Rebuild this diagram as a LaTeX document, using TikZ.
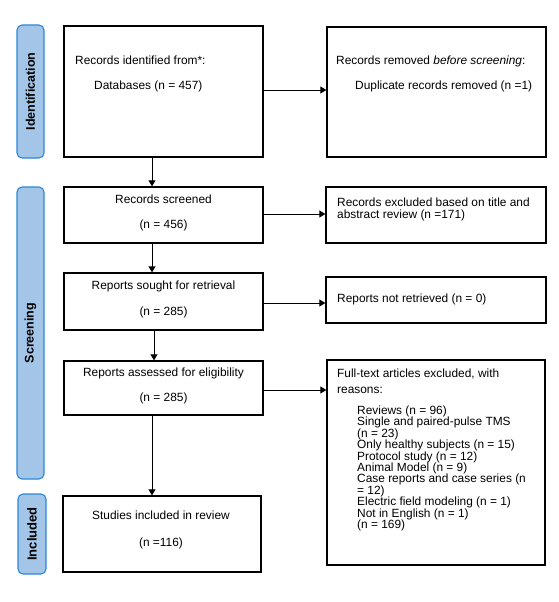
\documentclass[tikz,border=0pt]{standalone}
\usepackage{fontspec}
\setmainfont{Liberation Sans}
\usetikzlibrary{arrows.meta}
\definecolor{sidefill}{RGB}{162,197,232}
\definecolor{sideline}{RGB}{45,135,215}
\tikzset{
  box/.style={draw=black, line width=1.3pt, minimum width=#1, inner sep=0pt},
  sidebox/.style={draw=sideline, fill=sidefill, line width=1.1pt, rounded corners=5pt,
    rotate=90, inner sep=0pt, font=\fontsize{12.5}{14}\selectfont\bfseries},
  txt/.style={inner sep=0pt, font=\fontsize{11.9}{11.4}\selectfont},
  lt/.style={txt, anchor=base west},
  ct/.style={txt, anchor=base},
  arr/.style={line width=1pt, -{Triangle[length=6pt,width=7pt]}},
}
\begin{document}
\begin{tikzpicture}[x=1pt,y=-1pt]
\useasboundingbox (0,0) rectangle (559,602);
% side bars
\node[sidebox, minimum width=133pt, minimum height=27pt] (sid) at (30.5,91.5) {Identification};
\node[sidebox, minimum width=292pt, minimum height=27pt] (ssc) at (30.5,333) {Screening};
\node[sidebox, minimum width=80pt, minimum height=28pt, font=\fontsize{13}{15}\selectfont\bfseries] (sin) at (32,534) {Included};
% left column boxes
\node[box=199pt, minimum height=131pt] (b1) at (163.5,91.5) {};
\node[box=199pt, minimum height=56pt] (b3) at (163.5,215) {};
\node[box=199pt, minimum height=57pt] (b4) at (163.5,301.5) {};
\node[box=199pt, minimum height=54pt] (b5) at (163.5,388) {};
\node[box=198pt, minimum height=76pt] (b6) at (162,534) {};
% right column boxes
\node[box=219pt, minimum height=130pt] (r1) at (436.5,92) {};
\node[box=220pt, minimum height=56pt] (r2) at (436,215) {};
\node[box=220pt, minimum height=46pt] (r3) at (436,300) {};
\node[box=218pt, minimum height=205pt] (r4) at (436,462.5) {};
% texts
\node[lt] (t1a) at (75,65) {Records identified from*:};
\node[lt] (t1b) at (94,89.5) {Databases (n = 457)};
\node[lt] (t2a) at (336,65) {Records removed \textit{before screening}:};
\node[lt] (t2b) at (355,89.5) {Duplicate records removed (n =1)};
\node[ct] (t3a) at (163.5,203.5) {Records screened};
\node[ct] (t3b) at (163.5,228.5) {(n = 456)};
\node[ct] (t4a) at (163.5,289.5) {Reports sought for retrieval};
\node[ct] (t4b) at (163.5,315.5) {(n = 285)};
\node[ct] (t5a) at (163.5,376.5) {Reports assessed for eligibility};
\node[ct] (t5b) at (163.5,401.5) {(n = 285)};
\node[ct] (t6a) at (161,519.5) {Studies included in review};
\node[ct] (t6b) at (161,546.5) {(n =116)};
\node[lt] (u2a) at (337,206.5) {Records excluded based on title and};
\node[lt] (u2b) at (337,218) {abstract review (n =171)};
\node[lt] (u3) at (337,302.5) {Reports not retrieved (n = 0)};
\node[lt] (u4a) at (337,377.5) {Full-text articles excluded, with};
\node[lt] (u4b) at (337,393.5) {reasons:};
\foreach \t [count=\i from 0] in {Reviews (n = 96), Single and paired-pulse TMS, (n = 23),
  Only healthy subjects (n = 15), Protocol study (n = 12), Animal Model (n = 9),
  Case reports and case series (n, = 12), Electric field modeling (n = 1),
  Not in English (n = 1), (n = 169)}
  \node[lt] (fl\i) at (357,414.5+11.4*\i) {\t};
% arrows
\coordinate (cx) at (152,0);
\coordinate (cy) at (154,0);
\draw[arr] (b1.south -| cx) -- (b3.north -| cx);
\draw[arr] (b3.south -| cx) -- (b4.north -| cx);
\draw[arr] (b4.south -| cy) -- (b5.north -| cy);
\draw[arr] (b5.south -| cx) -- (b6.north -| cx);
\coordinate (ya) at (0,90);
\coordinate (yb) at (0,214);
\coordinate (yc) at (0,303);
\coordinate (yd) at (0,390);
\draw[arr] (b1.east |- ya) -- (r1.west |- ya);
\draw[arr] (b3.east |- yb) -- (r2.west |- yb);
\draw[arr] (b4.east |- yc) -- (r3.west |- yc);
\draw[arr] (b5.east |- yd) -- (r4.west |- yd);
\end{tikzpicture}
\end{document}
